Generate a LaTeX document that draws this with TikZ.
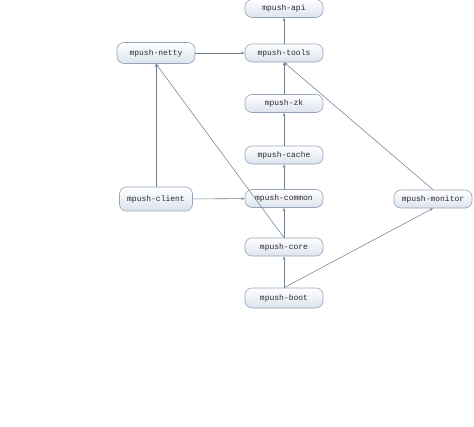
\documentclass[tikz,border=0pt]{standalone}
\usepackage{fontspec}
\setmonofont{Liberation Mono}
\usetikzlibrary{arrows.meta}
\definecolor{cEDGE}{HTML}{75828F}
\definecolor{cBOX}{HTML}{97A5B9}
\definecolor{cFILL}{HTML}{DCE3EE}
\definecolor{cTXT}{HTML}{2A2A2A}

\begin{document}
\begin{tikzpicture}[x=1pt, y=-1pt, font=\ttfamily\fontsize{8}{9}\selectfont, >={Stealth[length=3.5pt,width=2.6pt]},
  mod/.style={draw=cBOX, line width=0.6pt, rounded corners=7pt, top color=white, bottom color=cFILL, text=cTXT, minimum width=78pt, minimum height=18pt, inner sep=1pt},
  dep/.style={->, draw=cEDGE, line width=0.55pt}]
\useasboundingbox (0,0) rectangle (474,426);
% modules
\node[mod] (api) at (284,8.5) {mpush-api};
\node[mod] (tools) at (284,53) {mpush-tools};
\node[mod, minimum height=21pt] (netty) at (156,53) {mpush-netty};
\node[mod] (zk) at (284,103.5) {mpush-zk};
\node[mod] (cache) at (284,155) {mpush-cache};
\node[mod, minimum width=73pt, minimum height=24pt] (client) at (156,199) {mpush-client};
\node[mod] (common) at (284,198.5) {mpush-common};
\node[mod] (monitor) at (433,199) {mpush-monitor};
\node[mod] (core) at (284,247) {mpush-core};
\node[mod, minimum height=20pt] (boot) at (284,298) {mpush-boot};
% dependencies
\draw[dep] (tools) -- (api);
\draw[dep] (netty) -- (tools);
\draw[dep] (zk) -- (tools);
\draw[dep] (cache) -- (zk);
\draw[dep] (common) -- (cache);
\draw[dep] (client) -- (common);
\draw[dep] (client.north) -- (netty.south);
\draw[dep] (core.north) -- (netty.south);
\draw[dep] (monitor.north) -- (tools.south);
\draw[dep] (core) -- (common);
\draw[dep] (boot) -- (core);
\draw[dep] (boot.north) -- (monitor.south);
\end{tikzpicture}
\end{document}
